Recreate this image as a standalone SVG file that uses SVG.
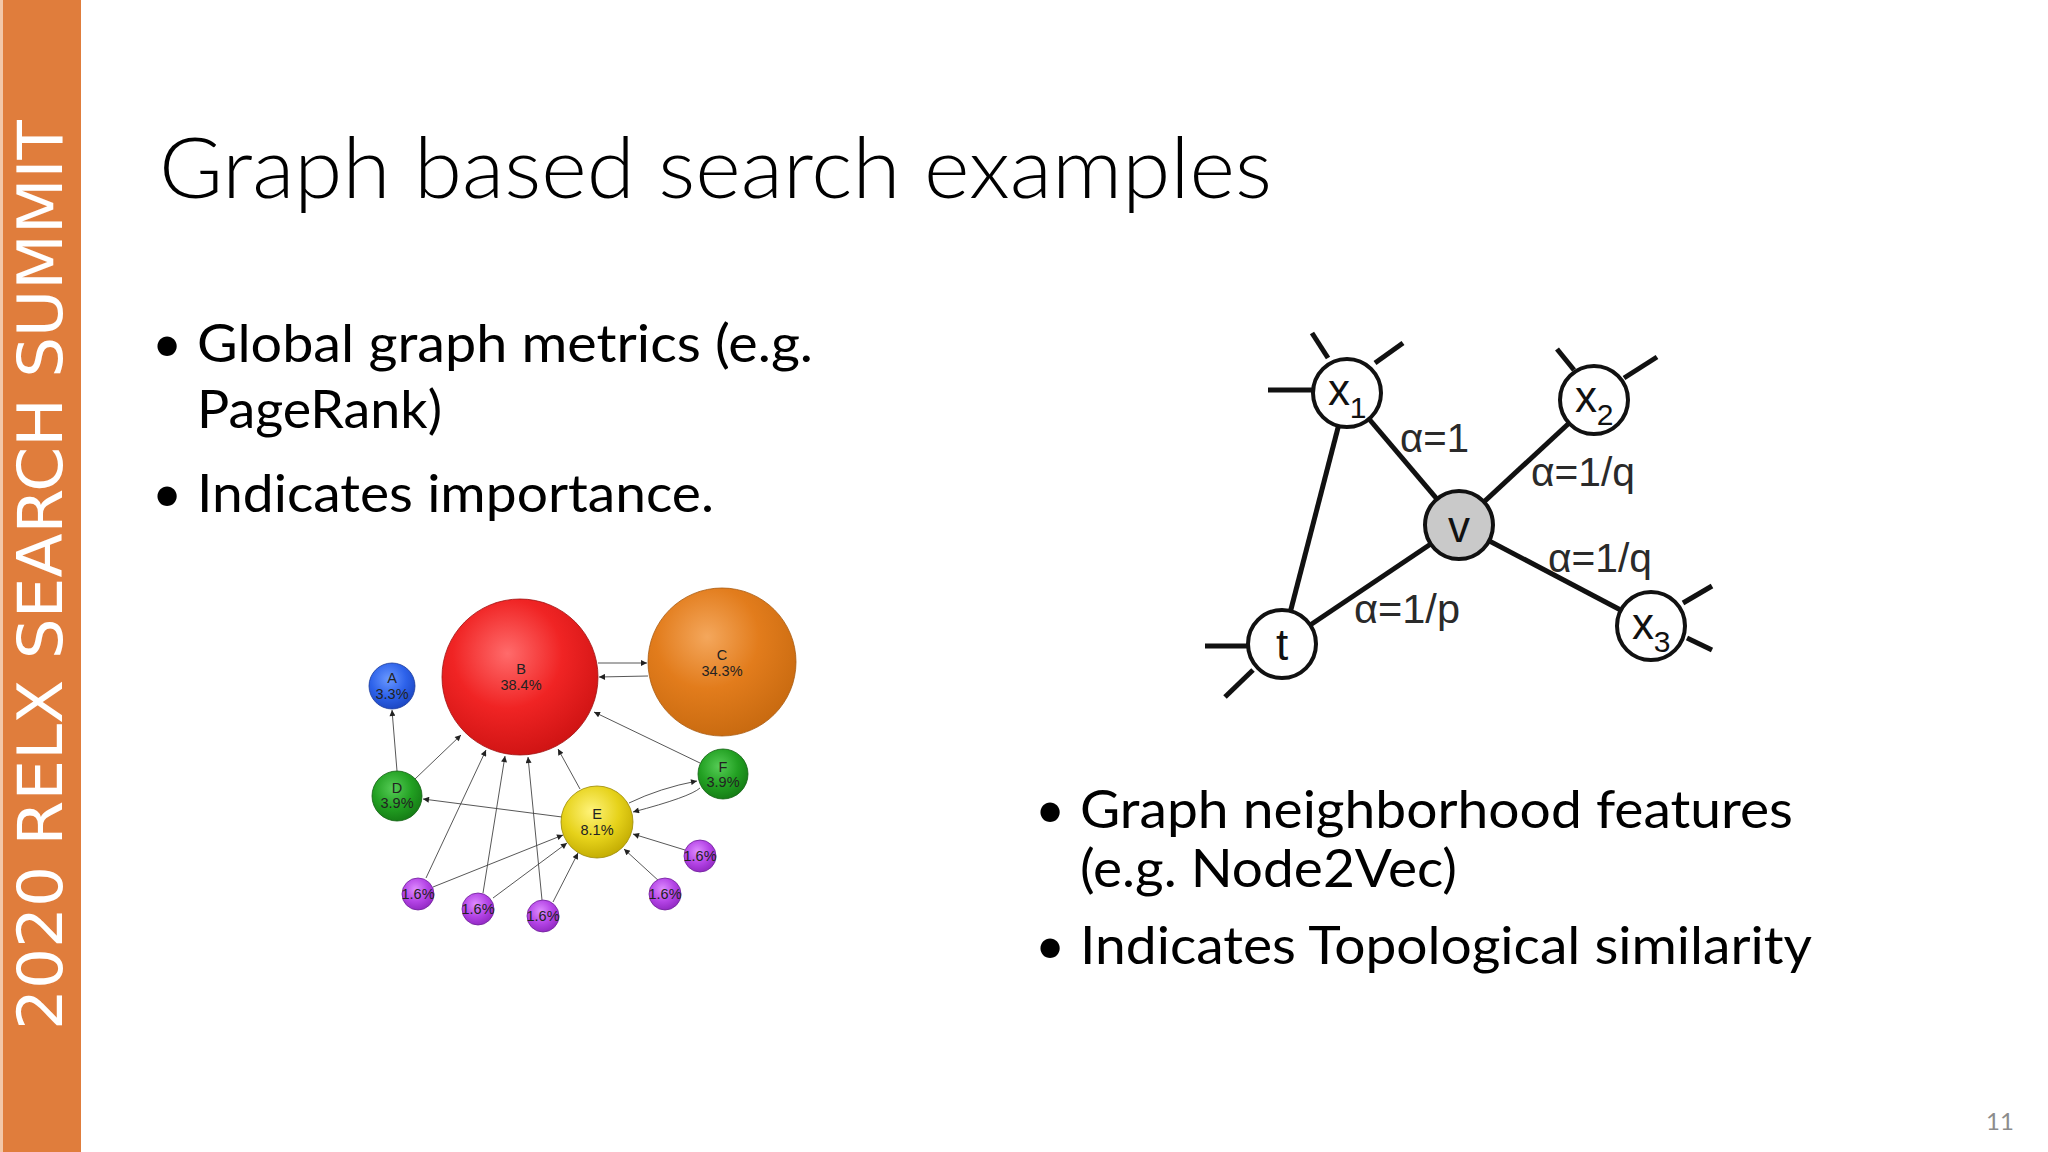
<svg xmlns="http://www.w3.org/2000/svg" width="2048" height="1152" viewBox="0 0 2048 1152">
<style>
.slide{font-family:Lato,"Open Sans","Liberation Sans",sans-serif;fill:#000}
.title{font-size:85px;font-weight:300}
.bul{font-size:52px}
.pr{font-family:"Liberation Sans",Arial,sans-serif;font-size:14.5px;fill:#222;text-anchor:middle}
.pe{fill:none;stroke:#444;stroke-width:0.9}
.nv{stroke:#111;stroke-width:5;stroke-linecap:butt;fill:none}
.nc{fill:#fff;stroke:#111;stroke-width:4}
.nl{font-family:"Liberation Sans",Arial,sans-serif;fill:#111;text-anchor:middle}
.al{font-family:"Liberation Sans",Arial,sans-serif;font-size:40px;fill:#2a2a2a}
</style>
<defs>
<marker id="ar" viewBox="0 0 10 10" refX="10" refY="5" markerWidth="7" markerHeight="6" markerUnits="userSpaceOnUse" orient="auto">
<path d="M0,0 L10,5 L0,10 z" fill="#222"/>
</marker>
<radialGradient id="gRed" cx="0.42" cy="0.35" r="0.7">
<stop offset="0" stop-color="#ff6b6b"/><stop offset="0.5" stop-color="#f02424"/><stop offset="1" stop-color="#cc1212"/>
</radialGradient>
<radialGradient id="gOr" cx="0.4" cy="0.33" r="0.7">
<stop offset="0" stop-color="#f4a75c"/><stop offset="0.5" stop-color="#e27c1c"/><stop offset="1" stop-color="#c86a10"/>
</radialGradient>
<radialGradient id="gBl" cx="0.42" cy="0.35" r="0.7">
<stop offset="0" stop-color="#6a98ff"/><stop offset="0.55" stop-color="#2d62ea"/><stop offset="1" stop-color="#1b44bd"/>
</radialGradient>
<radialGradient id="gGr" cx="0.42" cy="0.35" r="0.7">
<stop offset="0" stop-color="#56cc56"/><stop offset="0.55" stop-color="#22a022"/><stop offset="1" stop-color="#147814"/>
</radialGradient>
<radialGradient id="gYe" cx="0.42" cy="0.35" r="0.7">
<stop offset="0" stop-color="#fff37a"/><stop offset="0.55" stop-color="#e6d21a"/><stop offset="1" stop-color="#bfa800"/>
</radialGradient>
<radialGradient id="gPu" cx="0.42" cy="0.35" r="0.7">
<stop offset="0" stop-color="#de8cff"/><stop offset="0.55" stop-color="#b444e6"/><stop offset="1" stop-color="#8e26bf"/>
</radialGradient>
</defs>
<rect width="2048" height="1152" fill="#fff"/>

<g id="sidebar">
<rect x="0" y="0" width="81" height="1152" fill="#e07d3c"/>
<rect x="0" y="0" width="3" height="1152" fill="#f3c7a8"/>
<text transform="translate(62,1030) rotate(-90)" font-family="'DejaVu Sans',sans-serif" font-size="62" fill="#fff" textLength="910" lengthAdjust="spacingAndGlyphs">2020 RELX SEARCH SUMMIT</text>
</g>

<g id="texts" class="slide">
<text class="slide title" x="159" y="198" textLength="1113" lengthAdjust="spacingAndGlyphs">Graph based search examples</text>
<text class="slide bul" x="167" y="362" text-anchor="middle">•</text>
<text class="slide bul" x="197" y="362" textLength="616" lengthAdjust="spacingAndGlyphs">Global graph metrics (e.g.</text>
<text class="slide bul" x="197" y="428" textLength="245" lengthAdjust="spacingAndGlyphs">PageRank)</text>
<text class="slide bul" x="167" y="512" text-anchor="middle">•</text>
<text class="slide bul" x="197" y="512" textLength="517" lengthAdjust="spacingAndGlyphs">Indicates importance.</text>
<text class="slide bul" x="1050" y="828" text-anchor="middle">•</text>
<text class="slide bul" x="1080" y="828" textLength="713" lengthAdjust="spacingAndGlyphs">Graph neighborhood features</text>
<text class="slide bul" x="1080" y="887" textLength="377" lengthAdjust="spacingAndGlyphs">(e.g. Node2Vec)</text>
<text class="slide bul" x="1050" y="964" text-anchor="middle">•</text>
<text class="slide bul" x="1080" y="964" textLength="732" lengthAdjust="spacingAndGlyphs">Indicates Topological similarity</text>
<text x="2000" y="1130" text-anchor="middle" font-family="Lato,'Liberation Sans',sans-serif" font-size="24" fill="#8c8c8c">11</text>
</g>

<g id="pagerank-edges">
<line class="pe" x1="397" y1="771" x2="392" y2="710" marker-end="url(#ar)"/>
<line class="pe" x1="415" y1="779" x2="461" y2="735" marker-end="url(#ar)"/>
<line class="pe" x1="598" y1="663" x2="647" y2="663" marker-end="url(#ar)"/>
<line class="pe" x1="648" y1="676" x2="599" y2="677" marker-end="url(#ar)"/>
<line class="pe" x1="580" y1="789" x2="558" y2="749" marker-end="url(#ar)"/>
<line class="pe" x1="700" y1="763" x2="594" y2="712" marker-end="url(#ar)"/>
<line class="pe" x1="562" y1="817" x2="423" y2="799" marker-end="url(#ar)"/>
<path class="pe" d="M629,803 Q660,788 697,781" marker-end="url(#ar)"/>
<path class="pe" d="M700,788 Q690,797 633,812" marker-end="url(#ar)"/>
<line class="pe" x1="426" y1="878" x2="486" y2="750" marker-end="url(#ar)"/>
<line class="pe" x1="433" y1="887" x2="563" y2="835" marker-end="url(#ar)"/>
<line class="pe" x1="483" y1="893" x2="505" y2="756" marker-end="url(#ar)"/>
<line class="pe" x1="493" y1="898" x2="567" y2="843" marker-end="url(#ar)"/>
<line class="pe" x1="542" y1="900" x2="528" y2="757" marker-end="url(#ar)"/>
<line class="pe" x1="553" y1="902" x2="578" y2="853" marker-end="url(#ar)"/>
<line class="pe" x1="660" y1="882" x2="624" y2="849" marker-end="url(#ar)"/>
<line class="pe" x1="685" y1="850" x2="633" y2="834" marker-end="url(#ar)"/>
</g>

<g id="pr-A"><circle cx="392" cy="686" r="23" fill="url(#gBl)" stroke="#1a3a9a" stroke-width="0.8"/><text class="pr" x="392" y="683">A</text><text class="pr" x="392" y="699">3.3%</text></g>
<g id="pr-B"><circle cx="520" cy="677" r="78" fill="url(#gRed)" stroke="#a01010" stroke-width="0.8"/><text class="pr" x="521" y="674">B</text><text class="pr" x="521" y="690">38.4%</text></g>
<g id="pr-C"><circle cx="722" cy="662" r="74" fill="url(#gOr)" stroke="#a85a10" stroke-width="0.8"/><text class="pr" x="722" y="660">C</text><text class="pr" x="722" y="676">34.3%</text></g>
<g id="pr-D"><circle cx="397" cy="796" r="25" fill="url(#gGr)" stroke="#0f600f" stroke-width="0.8"/><text class="pr" x="397" y="793">D</text><text class="pr" x="397" y="808">3.9%</text></g>
<g id="pr-E"><circle cx="597" cy="822" r="36" fill="url(#gYe)" stroke="#9a8800" stroke-width="0.8"/><text class="pr" x="597" y="819">E</text><text class="pr" x="597" y="835">8.1%</text></g>
<g id="pr-F"><circle cx="723" cy="774" r="25" fill="url(#gGr)" stroke="#0f600f" stroke-width="0.8"/><text class="pr" x="723" y="772">F</text><text class="pr" x="723" y="787">3.9%</text></g>
<g id="pr-P1"><circle cx="418" cy="894" r="16" fill="url(#gPu)" stroke="#70209a" stroke-width="0.8"/><text class="pr" x="418" y="899">1.6%</text></g>
<g id="pr-P2"><circle cx="478" cy="909" r="16" fill="url(#gPu)" stroke="#70209a" stroke-width="0.8"/><text class="pr" x="478" y="914">1.6%</text></g>
<g id="pr-P3"><circle cx="543" cy="916" r="16" fill="url(#gPu)" stroke="#70209a" stroke-width="0.8"/><text class="pr" x="543" y="921">1.6%</text></g>
<g id="pr-P4"><circle cx="665" cy="894" r="16" fill="url(#gPu)" stroke="#70209a" stroke-width="0.8"/><text class="pr" x="665" y="899">1.6%</text></g>
<g id="pr-P5"><circle cx="700" cy="856" r="16" fill="url(#gPu)" stroke="#70209a" stroke-width="0.8"/><text class="pr" x="700" y="861">1.6%</text></g>

<g id="n2v-edges">
<line class="nv" x1="1347" y1="393" x2="1459" y2="525"/>
<line class="nv" x1="1347" y1="393" x2="1282" y2="644"/>
<line class="nv" x1="1282" y1="644" x2="1459" y2="525"/>
<line class="nv" x1="1459" y1="525" x2="1594" y2="400"/>
<line class="nv" x1="1459" y1="525" x2="1651" y2="626"/>
<line class="nv" x1="1268" y1="390" x2="1312" y2="390"/>
<line class="nv" x1="1312" y1="333" x2="1328" y2="358"/>
<line class="nv" x1="1375" y1="363" x2="1403" y2="343"/>
<line class="nv" x1="1557" y1="349" x2="1574" y2="370"/>
<line class="nv" x1="1624" y1="378" x2="1657" y2="357"/>
<line class="nv" x1="1683" y1="603" x2="1712" y2="586"/>
<line class="nv" x1="1687" y1="638" x2="1712" y2="650"/>
<line class="nv" x1="1205" y1="646" x2="1247" y2="646"/>
<line class="nv" x1="1225" y1="697" x2="1253" y2="670"/>
</g>

<g id="n2v-x1"><circle class="nc" cx="1347" cy="393" r="34"/><text class="nl" x="1339" y="405" font-size="44">x</text><text class="nl" x="1358" y="418" font-size="30">1</text></g>
<g id="n2v-x2"><circle class="nc" cx="1594" cy="400" r="34"/><text class="nl" x="1586" y="412" font-size="44">x</text><text class="nl" x="1605" y="425" font-size="30">2</text></g>
<g id="n2v-x3"><circle class="nc" cx="1651" cy="626" r="34"/><text class="nl" x="1643" y="639" font-size="44">x</text><text class="nl" x="1662" y="652" font-size="30">3</text></g>
<g id="n2v-v"><circle class="nc" cx="1459" cy="525" r="34" style="fill:#c9c9c9"/><text class="nl" x="1459" y="542" font-size="44">v</text></g>
<g id="n2v-t"><circle class="nc" cx="1282" cy="644" r="34"/><text class="nl" x="1282" y="660" font-size="44">t</text></g>

<g id="n2v-labels">
<text class="al" x="1400" y="452" textLength="69" lengthAdjust="spacingAndGlyphs">α=1</text>
<text class="al" x="1531" y="486" textLength="104" lengthAdjust="spacingAndGlyphs">α=1/q</text>
<text class="al" x="1548" y="572" textLength="104" lengthAdjust="spacingAndGlyphs">α=1/q</text>
<text class="al" x="1354" y="623" textLength="106" lengthAdjust="spacingAndGlyphs">α=1/p</text>
</g>
</svg>
